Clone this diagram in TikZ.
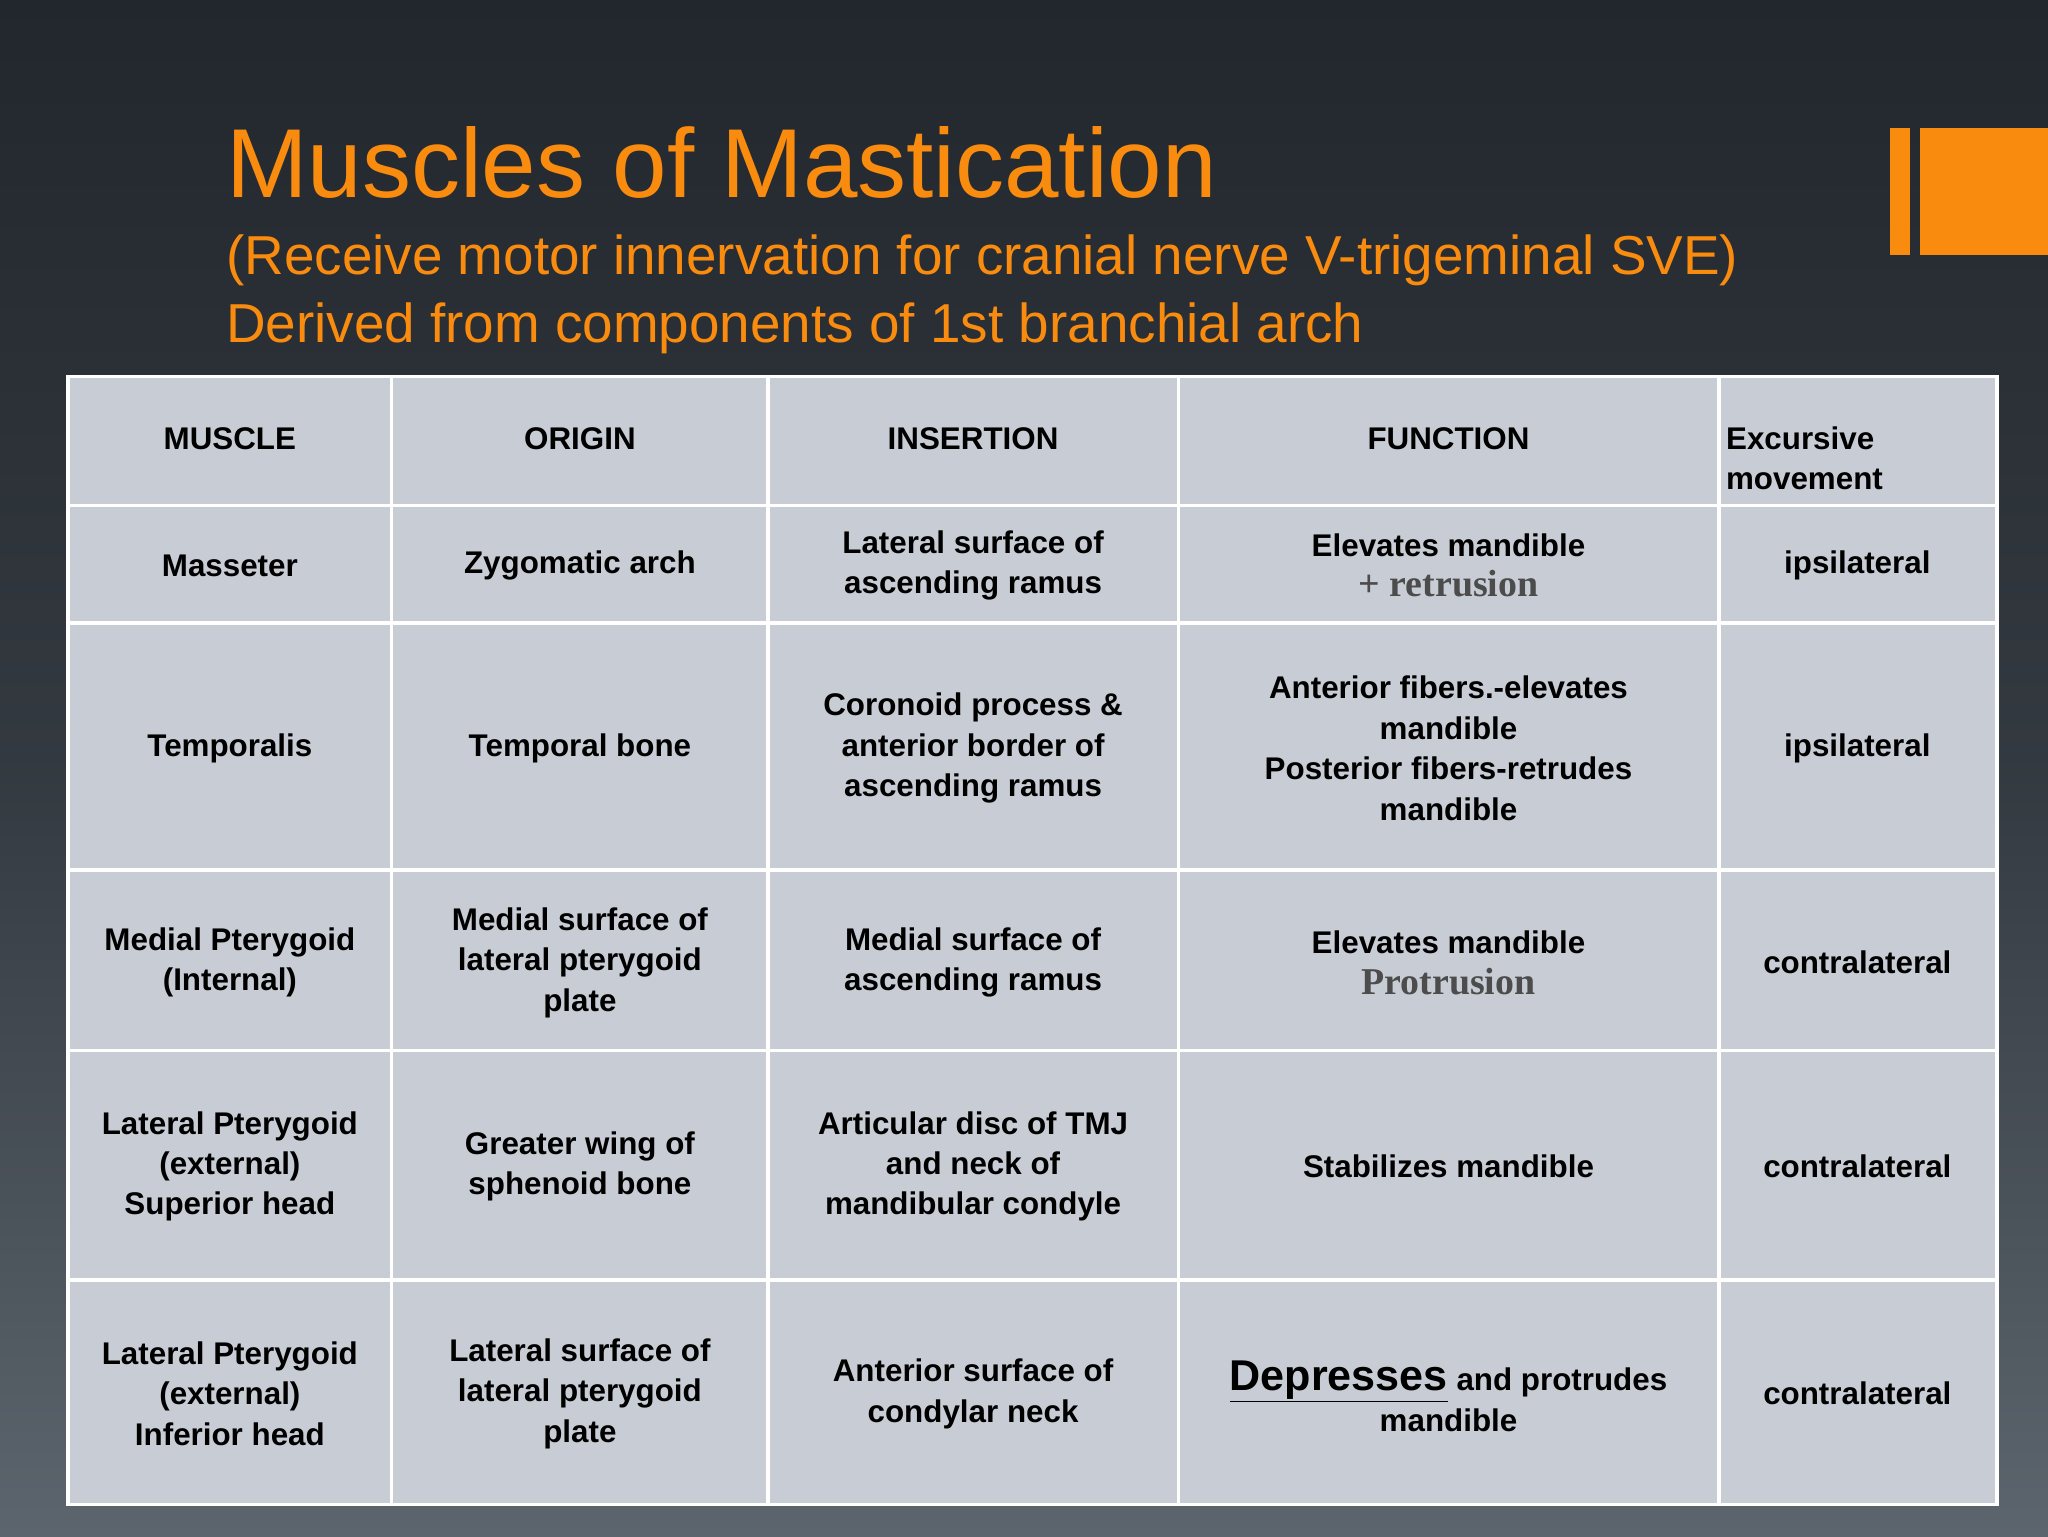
\documentclass[tikz,border=0pt]{standalone}
\usepackage{fontspec}
\setmainfont{Liberation Sans}
\newfontfamily\serifb{Liberation Serif}
\definecolor{orng}{HTML}{F98B0F}
\definecolor{celfill}{HTML}{C8CDD5}
\definecolor{bgtop}{HTML}{22272D}
\definecolor{bgbot}{HTML}{5C656D}
\begin{document}
\begin{tikzpicture}[x=1pt,y=-1pt,
  cell/.style={font=\bfseries\fontsize{24}{31}\selectfont, align=center, text=black},
  hdr/.style={cell}]
\useasboundingbox (0,0) rectangle (1568,1176);
\shade[top color=bgtop, bottom color=bgbot, middle color=bgtop!70!bgbot] (0,0) rectangle (1568,1176);
\fill[orng] (1447,98) rectangle (1462,195);
\fill[orng] (1470,98) rectangle (1568,195);
\node[anchor=base west, text=orng, font=\fontsize{75}{80}\selectfont, inner sep=0] (t1) at (173,151) {Muscles of Mastication};
\node[anchor=base west, text=orng, font=\fontsize{42}{46}\selectfont, inner sep=0] (t2) at (173,210) {(Receive motor innervation for cranial nerve V-trigeminal SVE)};
\node[anchor=base west, text=orng, font=\fontsize{42}{46}\selectfont, inner sep=0] (t3) at (173,262) {Derived from components of 1st branchial arch};
\fill[celfill] (52,288) rectangle (1529,1152);
\draw[white, line width=2.5pt] (52,288) rectangle (1529,1152);
\foreach \x in {300,588,902,1316} \draw[white, line width=2.5pt] (\x,288) -- (\x,1152);
\foreach \y in {387,477,666,804,980} \draw[white, line width=2.5pt] (52,\y) -- (1529,\y);
% header
\node[hdr] (h1) at (176,336) {MUSCLE};
\node[hdr] (h2) at (444,336) {ORIGIN};
\node[hdr] (h3) at (745,336) {INSERTION};
\node[hdr] (h4) at (1109,336) {FUNCTION};
\node[hdr, align=left, anchor=west] (h5) at (1318,351) {Excursive\\movement};
% row 1
\node[cell] (a1) at (176,433) {Masseter};
\node[cell] (a2) at (444,433) {Zygomatic arch};
\node[cell] (a3) at (745,433) {Lateral surface of\\ascending ramus};
\node[cell] (a4) at (1109,433) {Elevates mandible\\{\serifb\fontsize{29}{31}\selectfont\color{black!70}+ retrusion}};
\node[cell] (a5) at (1422,433) {ipsilateral};
% row 2
\node[cell] (b1) at (176,573) {Temporalis};
\node[cell] (b2) at (444,573) {Temporal bone};
\node[cell] (b3) at (745,573) {Coronoid process \&\\anterior border of\\ascending ramus};
\node[cell] (b4) at (1109,573) {Anterior fibers.-elevates\\mandible\\Posterior fibers-retrudes\\mandible};
\node[cell] (b5) at (1422,573) {ipsilateral};
% row 3
\node[cell] (c1) at (176,737) {Medial Pterygoid\\(Internal)};
\node[cell] (c2) at (444,737) {Medial surface of\\lateral pterygoid\\plate};
\node[cell] (c3) at (745,737) {Medial surface of\\ascending ramus};
\node[cell] (c4) at (1109,737) {Elevates mandible\\{\serifb\fontsize{29}{31}\selectfont\color{black!70}Protrusion}};
\node[cell] (c5) at (1422,737) {contralateral};
% row 4
\node[cell] (d1) at (176,893) {Lateral Pterygoid\\(external)\\Superior head};
\node[cell] (d2) at (444,893) {Greater wing of\\sphenoid bone};
\node[cell] (d3) at (745,893) {Articular disc of TMJ\\and neck of\\mandibular condyle};
\node[cell] (d4) at (1109,893) {Stabilizes mandible};
\node[cell] (d5) at (1422,893) {contralateral};
% row 5
\node[cell] (e1) at (176,1067) {Lateral Pterygoid\\(external)\\Inferior head};
\node[cell] (e2) at (444,1067) {Lateral surface of\\lateral pterygoid\\plate};
\node[cell] (e3) at (745,1067) {Anterior surface of\\condylar neck};
\node[cell] (e4) at (1109,1069) {{\fontsize{33}{35}\selectfont\underline{Depresses}} and protrudes\\mandible};
\node[cell] (e5) at (1422,1067) {contralateral};
\end{tikzpicture}
\end{document}
